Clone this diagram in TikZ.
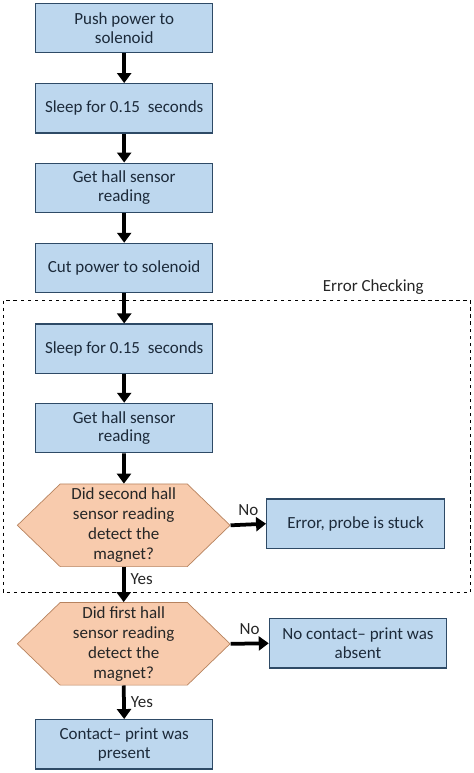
\documentclass[tikz,border=0pt]{standalone}
\usepackage{fontspec}
\setmainfont{Carlito}
\usetikzlibrary{arrows.meta}
\usetikzlibrary{positioning}
\usetikzlibrary{shapes.symbols}
\definecolor{boxblue}{HTML}{BDD7EE}
\definecolor{boxedge}{HTML}{2E4A66}
\definecolor{hexorange}{HTML}{F8CBAD}
\definecolor{hexedge}{HTML}{B7835F}
\definecolor{inktext}{HTML}{1C2A3A}

\begin{document}
\begin{tikzpicture}[x=0.03cm,y=-0.03cm,
  procbox/.style={rectangle,draw=boxedge,fill=boxblue,line width=1pt,minimum width=5.31cm,minimum height=1.48cm,align=center,text=inktext,font=\fontsize{14.5}{16}\selectfont,inner sep=0pt},
  decision/.style={signal,signal to=east and west,signal pointer angle=88,draw=hexedge,fill=hexorange,line width=0.6pt,minimum width=6.38cm,minimum height=2.48cm,align=center,text=black!85,font=\fontsize{14.5}{17}\selectfont,inner sep=0pt},
  flowarrow/.style={line width=3.2pt,-{Triangle[length=0.3cm,width=0.42cm]}},
  flowlabel/.style={font=\fontsize{14.5}{16}\selectfont,text=black!85}]
\useasboundingbox (0,0) rectangle (474,773);

\draw[dashed,line width=0.7pt] (3.3,300.7) rectangle (470.7,592.3);
\node[flowlabel] (errlabel) at (373.3,287) {Error Checking};

\node[procbox] (push) at (124.2,28) {Push power to\\solenoid};
\node[procbox] (sleepA) at (124.2,108.3) {Sleep for 0.15~ seconds};
\node[procbox] (readA) at (124.2,187.8) {Get hall sensor\\reading};
\node[procbox] (cut) at (124.2,268) {Cut power to solenoid};
\node[procbox] (sleepB) at (124.2,348.7) {Sleep for 0.15~ seconds};
\node[procbox] (readB) at (124.2,428) {Get hall sensor\\reading};
\node[decision] (askB) at (123.7,525.3) {Did second hall\\sensor reading\\detect the\\magnet?};
\node[procbox,minimum width=5.33cm] (stuck) at (355.5,523.7) {Error, probe is stuck};
\node[decision] (askA) at (123.7,643.8) {Did first hall\\sensor reading\\detect the\\magnet?};
\node[procbox,minimum width=5.32cm] (absent) at (358,643.3) {No contact-- print was\\absent};
\node[procbox] (present) at (124.2,744.3) {Contact-- print was\\present};

\draw[flowarrow] (push) -- (sleepA);
\draw[flowarrow] (sleepA) -- (readA);
\draw[flowarrow] (readA) -- (cut);
\draw[flowarrow] (cut) -- (sleepB);
\draw[flowarrow] (sleepB) -- (readB);
\draw[flowarrow] (readB) -- (askB);
\draw[flowarrow] (askB.east) -- node[flowlabel,above=3pt] {No} (stuck.west);
\draw[flowarrow] (askB.south) -- node[flowlabel,right=1pt,pos=0.35] {Yes} (askA.north);
\draw[flowarrow] (askA.east) -- node[flowlabel,above=3pt] {No} (absent.west);
\draw[flowarrow] (askA.south) -- node[flowlabel,right=1pt] {Yes} (present.north);

\end{tikzpicture}
\end{document}
